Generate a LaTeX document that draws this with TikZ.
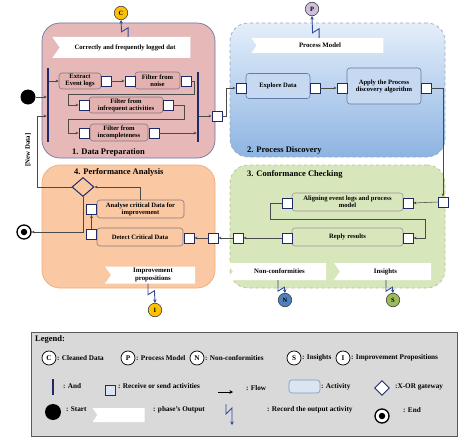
\documentclass[tikz,border=0pt]{standalone}
\usepackage{fontspec}
\setmainfont{Liberation Serif}
\usetikzlibrary{arrows.meta,shapes.geometric,shapes.symbols,calc}
\definecolor{navy}{HTML}{1F2A6B}
\definecolor{pinkP}{HTML}{E6B9B8}
\definecolor{pinkA}{HTML}{E2B1B0}
\definecolor{pinkB}{HTML}{6A76A8}
\definecolor{blueT}{HTML}{E4EEFA}
\definecolor{blueB}{HTML}{8DB4E2}
\definecolor{blueBd}{HTML}{9AA6C0}
\definecolor{blueA}{HTML}{C6D9F1}
\definecolor{blueAB}{HTML}{5E7DAA}
\definecolor{greenP}{HTML}{D8E6BC}
\definecolor{greenBd}{HTML}{B4C496}
\definecolor{orP}{HTML}{FAC8A2}
\definecolor{orBd}{HTML}{F0AC78}
\definecolor{flowc}{HTML}{4A4A4A}
\definecolor{actBd}{HTML}{857880}
\definecolor{legbg}{HTML}{D9D9D9}
\definecolor{legbd}{HTML}{595959}
\definecolor{yel}{HTML}{FFC000}
\definecolor{lilac}{HTML}{CCC0DA}
\definecolor{stblue}{HTML}{4F81BD}
\definecolor{olive}{HTML}{9BBB59}
\definecolor{recc}{HTML}{2F4A96}
\definecolor{lblue}{HTML}{DBE5F1}
\newcommand{\actfont}{\fontsize{6.6}{7}\selectfont\bfseries}
\newcommand{\outfont}{\fontsize{6.8}{7.2}\selectfont\bfseries}
\newcommand{\tokfont}{\fontsize{6.5}{7}\selectfont\bfseries}
\newcommand{\titfont}{\fontsize{8.5}{9}\selectfont\bfseries}
\newcommand{\legfont}{\fontsize{7.2}{8}\selectfont\bfseries}
\tikzset{
  panel/.style={rounded corners=18pt, line width=0.7pt, inner sep=0pt},
  pin/.style={rectangle, draw=navy, fill=white, line width=0.9pt, minimum size=10pt, inner sep=0pt},
  actbox/.style={rectangle, rounded corners=3pt, line width=0.6pt, align=center, inner sep=1pt, font=\actfont},
  act1/.style={actbox, draw=actBd, fill=pinkA},
  act2/.style={actbox, draw=blueAB, fill=blueA},
  act3/.style={actbox, draw=actBd!80, fill=greenP},
  act4/.style={actbox, draw=actBd, fill=orP},
  flow/.style={draw=flowc, line width=0.55pt, -{Stealth[length=3pt,width=2.8pt]}},
  andbar/.style={rectangle, fill=navy, draw=none, minimum width=2.2pt, inner sep=0pt},
  outb/.style={signal, signal from=west, signal to=nowhere, signal pointer angle=110, fill=white, draw=none, inner sep=0pt, font=\outfont, align=center},
  token/.style={circle, draw=black!75, line width=0.6pt, inner sep=0pt, minimum size=13.5pt, font=\tokfont},
  ltoken/.style={circle, draw=black, fill=white, line width=0.7pt, inner sep=0pt, minimum size=14pt, font=\legfont},
  rec/.style={draw=recc, line width=0.9pt, -{Stealth[length=3.5pt,width=3.5pt]}},
  titl/.style={font=\titfont, anchor=west, inner sep=0pt},
  ltxt/.style={font=\legfont, anchor=west, inner sep=0pt},
  startc/.style={circle, fill=black, draw=none, minimum size=15pt, inner sep=0pt},
  endc/.style={circle, fill=white, draw=black, line width=1.3pt, minimum size=14pt, inner sep=0pt},
  enddot/.style={circle, fill=black, minimum size=6.5pt, inner sep=0pt},
  xor/.style={diamond, draw=navy, line width=1pt, minimum width=22pt, minimum height=19pt, inner sep=0pt}
}
\begin{document}
\begin{tikzpicture}[x=1pt,y=-1pt]
\useasboundingbox (0,0) rectangle (474,444);
\fill[white] (0,0) rectangle (474,444);
% panels
\node[panel, fill=pinkP, draw=pinkB, minimum width=173pt, minimum height=135pt] (ph1) at (128.5,90.5) {};
\node[panel, top color=blueT, bottom color=blueB, draw=blueBd, dashed, minimum width=215pt, minimum height=134pt] (ph2) at (337.5,90) {};
\node[panel, fill=greenP, draw=greenBd, dashed, minimum width=215pt, minimum height=123pt] (ph3) at (337.5,226.5) {};
\node[panel, fill=orP, draw=orBd, minimum width=173pt, minimum height=123pt] (ph4) at (128.5,226.5) {};
% titles
\node[titl] (t1) at (72,152) {1. Data Preparation};
\node[titl] (t2) at (247,150) {2. Process Discovery};
\node[titl] (t3) at (247,174) {3. Conformance Checking};
\node[titl] (t4) at (74,172) {4. Performance Analysis};
% outputs
\node[outb, minimum width=138pt, minimum height=21pt, font=\actfont] (o1) at (125,47.5) {Correctly and frequently logged dat};
\node[outb, minimum width=132pt, minimum height=15pt] (o2) at (320,45.5) {Process Model};
\node[outb, minimum width=99pt, minimum height=17pt] (o3) at (279.5,271.5) {Non-conformities};
\node[outb, minimum width=97pt, minimum height=17pt] (o4) at (385.5,271.5) {Insights};
\node[outb, minimum width=90pt, minimum height=17pt] (o5) at (153,275) {Improvement\\propositions};
% tokens
\node[token, fill=yel] (tC) at (121,13) {C};
\node[token, fill=lilac] (tP) at (312,9) {P};
\node[token, fill=stblue] (tN) at (285,300) {N};
\node[token, fill=olive] (tS) at (393,300) {S};
\node[token, fill=yel] (tI) at (155,310) {I};
\draw[rec] (tC.east |- o1.north) -- ++(0,-9) -- ++(-6.5,4) -- (tC.south);
\draw[rec] (tP.east |- o2.north) -- ++(0,-9) -- ++(-6.5,4) -- (tP.south);
\draw[rec] (tN.west |- o3.south) -- ++(0,11) -- ++(6.5,-4) -- (tN.north);
\draw[rec] (tS.west |- o4.south) -- ++(0,11) -- ++(6.5,-4) -- (tS.north);
\draw[rec] (tI.west |- o5.south) -- ++(0,11) -- ++(6.5,-4) -- (tI.north);
% phase 1
\node[startc] (st) at (28,97) {};
\node[andbar, minimum height=74pt] (bL) at (48,105) {};
\node[andbar, minimum height=70pt] (bR) at (198,107) {};
\node[act1, minimum width=42pt, minimum height=16pt] (a1) at (80,81) {Extract\\Event logs};
\node[pin] (a1o) at (106,81) {};
\node[act1, minimum width=45pt, minimum height=17pt] (a2) at (157.5,80.5) {Filter from\\noise};
\node[pin] (a2i) at (130,81) {};
\node[pin] (a2o) at (186,81) {};
\node[act1, minimum width=74pt, minimum height=16pt] (a3) at (126,105) {Filter from\\infrequent activities};
\node[pin] (a3i) at (84,105) {};
\node[pin] (a3o) at (168,105) {};
\node[act1, minimum width=58pt, minimum height=17pt] (a4) at (119,132.5) {Filter from\\incompleteness};
\node[pin] (a4i) at (84,133) {};
\node[pin] (a4o) at (154,133) {};
\node[pin] (p1o) at (217,116) {};
\draw[flow] (st) -- (st -| bL.west);
\draw[flow] (bL.east |- a1) -- (a1.west);
\draw[flow] (a1o) -- (a2i);
\draw[flow] (a2o.east) -- (194,81) -- (194,94) -- (68,94) |- (a3i.west);
\draw[flow] (a3o.east) -- (184,105) -- (184,119) -- (68,119) |- (a4i.west);
\draw[flow] (a4o.east) -- (a4o.east -| bR.west);
\draw[flow] (bR.east |- p1o) -- (p1o.west);
% phase 2
\node[act2, minimum width=64pt, minimum height=25pt] (ex) at (278,86) {Explore Data};
\node[pin] (exi) at (241,88) {};
\node[pin] (exo) at (315,88) {};
\node[act2, minimum width=74pt, minimum height=36pt] (ap) at (384,86) {Apply the Process\\discovery algorithm};
\node[pin] (api) at (342,88) {};
\node[pin] (apo) at (426,88) {};
\draw[flow] (p1o.east) -- (226,116) |- (exi.west);
\draw[flow] (exo) -- (api);
% phase 3
\node[pin] (cin) at (443,202) {};
\node[act3, minimum width=111pt, minimum height=18pt] (al) at (347.5,202) {Aligning event logs and process\\model};
\node[pin] (ali) at (408,203) {};
\node[pin] (alo) at (287,203) {};
\node[act3, minimum width=111pt, minimum height=18pt] (re) at (347.5,237) {Reply results};
\node[pin] (rei) at (408,238) {};
\node[pin] (reo) at (287,238) {};
\node[pin] (cout) at (238,238) {};
\draw[flow] (apo.east) -| (cin.north);
\draw[flow] (cin.west) -- (ali.east);
\draw[flow] (alo.west) -- (270,203) -- (270,219) -- (425,219) |- (rei.east);
\draw[flow] (reo.west) -- (cout.east);
% phase 4
\node[pin] (din) at (213,238) {};
\node[act4, minimum width=86pt, minimum height=18pt] (dc) at (140,237) {Detect Critical Data};
\node[pin] (dci) at (189,238) {};
\node[pin] (dco) at (91.5,234) {};
\node[act4, minimum width=87pt, minimum height=18pt] (an) at (140.5,209) {Analyse critical Data for\\improvement};
\node[pin] (ani) at (91.5,209.5) {};
\node[xor, fill=orP] (gw) at (83,187) {};
\node[endc] (en) at (24,232) {};
\node[enddot] (end) at (en) {};
\coordinate (nd) at (37,116);
\draw[flow] (cout.west) -- (din.east);
\draw[flow] (din.west) -- (dci.east);
\draw[flow] (dco.north) -- (ani.south);
\draw[flow] (an.north) |- (gw.east);
\draw[flow] (gw.south) |- (en.east);
\draw[flow] (gw.west) -| (nd) -- (nd -| bL.west);
\node[rotate=90, font=\outfont] (ndl) at (28,150) {[New Data]};
% legend
\node[rectangle, fill=legbg, draw=legbd, line width=0.8pt, minimum width=426pt, minimum height=104pt] (leg) at (244,384) {};
\node[font=\titfont, anchor=west, inner sep=0pt] (lt) at (35,339) {Legend:};
\node[ltoken] (lC) at (49,358) {C};
\node[ltxt] (lCt) at (57,358) {: Cleaned Data};
\node[ltoken] (lP) at (128,358) {P};
\node[ltxt] (lPt) at (136,358) {: Process Model};
\node[ltoken] (lN) at (197,358) {N};
\node[ltxt] (lNt) at (205,358) {: Non-conformities};
\node[ltoken] (lS) at (294,358) {S};
\node[ltxt] (lSt) at (302,358) {: Insights};
\node[ltoken] (lI) at (343,358) {I};
\node[ltxt] (lIt) at (351,358) {: Improvement Propositions};
\node[andbar, minimum height=16pt] (lA) at (53,387) {};
\node[ltxt] (lAt) at (63,386) {: And};
\node[pin, fill=lblue] (lR) at (110,390) {};
\node[ltxt] (lRt) at (118,386) {: Receive or send activities};
\coordinate (lf1) at (218,392);
\coordinate (lf2) at (233,392);
\draw[draw=black, line width=0.8pt, -{Stealth[length=3.5pt,width=3.5pt]}] (lf1) -- (lf2);
\node[ltxt] (lFt) at (246,388) {: Flow};
\node[rectangle, rounded corners=3pt, fill=lblue, draw=blueAB!80, line width=0.6pt, minimum width=31pt, minimum height=13pt] (lAc) at (304.5,386.5) {};
\node[ltxt] (lAct) at (321,387) {: Activity};
\node[diamond, draw=navy, fill=white, line width=0.9pt, minimum width=15pt, minimum height=15pt, inner sep=0pt] (lX) at (382,388) {};
\node[ltxt] (lXt) at (395,387) {:X-OR gateway};
\node[startc, minimum size=16pt] (lSt2) at (53,412) {};
\node[ltxt] (lStt) at (66,409) {: Start};
\node[outb, minimum width=52pt, minimum height=14pt] (lO) at (121,415) {};
\node[ltxt] (lOt) at (153,410) {: phase's Output};
\coordinate (lr1) at (226,404);
\coordinate (lr1b) at (226,414);
\coordinate (lr2b) at (232,408);
\coordinate (lr2) at (232,425);
\draw[rec] (lr1) -- (lr1b) -- (lr2b) -- (lr2);
\node[ltxt] (lRect) at (267,410) {: Record the output activity};
\node[endc] (lE) at (382,416) {};
\node[enddot] (lEd) at (lE) {};
\node[ltxt] (lEt) at (403,410) {: End};
\end{tikzpicture}
\end{document}
